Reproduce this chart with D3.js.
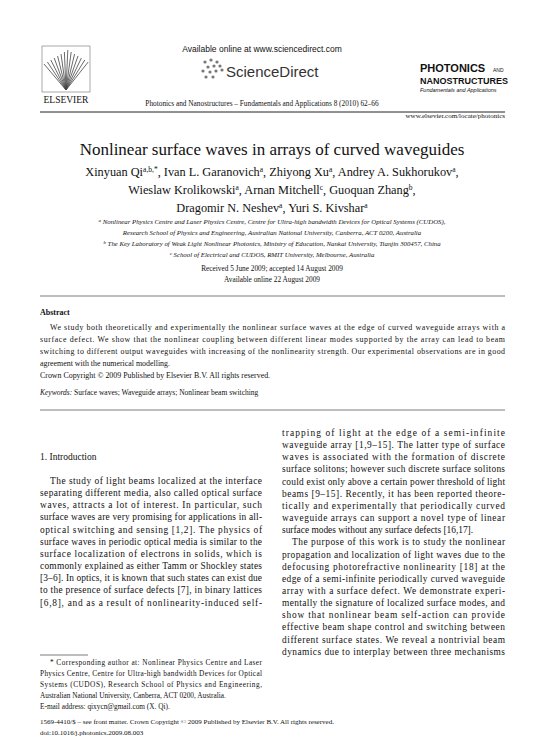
<!DOCTYPE html><html><head><meta charset="utf-8">
<script src="https://cdn.jsdelivr.net/npm/d3@7"></script>
<style>body{margin:0;background:#fff}svg{display:block}</style></head><body>
<script>
const authorLines=[
 [["Xinyuan Qi","a,b,*"],[", Ivan L. Garanovich","a"],[", Zhiyong Xu","a"],[", Andrey A. Sukhorukov","a"],[",",""]],
 [["Wieslaw Krolikowski","a"],[", Arnan Mitchell","c"],[", Guoquan Zhang","b"],[",",""]],
 [["Dragomir N. Neshev","a"],[", Yuri S. Kivshar","a"]]];
const affiliations=[
 ["a"," Nonlinear Physics Centre and Laser Physics Centre, Centre for Ultra-high bandwidth Devices for Optical Systems (CUDOS),"],
 [""," Research School of Physics and Engineering, Australian National University, Canberra, ACT 0200, Australia"],
 ["b"," The Key Laboratory of Weak Light Nonlinear Photonics, Ministry of Education, Nankai University, Tianjin 300457, China"],
 ["c"," School of Electrical and CUDOS, RMIT University, Melbourne, Australia"]];
const abstractLines=[
 ["We study both theoretically and experimentally the nonlinear surface waves at the edge of curved waveguide arrays with a",1],
 ["surface defect. We show that the nonlinear coupling between different linear modes supported by the array can lead to beam",1],
 ["switching to different output waveguides with increasing of the nonlinearity strength. Our experimental observations are in good",1],
 ["agreement with the numerical modelling.",0],
 ["Crown Copyright © 2009 Published by Elsevier B.V. All rights reserved.",0]];
const leftLines=[
 ["The study of light beams localized at the interface",1],
 ["separating different media, also called optical surface",1],
 ["waves, attracts a lot of interest. In particular, such",1],
 ["surface waves are very promising for applications in all-",1],
 ["optical switching and sensing [1,2]. The physics of",1],
 ["surface waves in periodic optical media is similar to the",1],
 ["surface localization of electrons in solids, which is",1],
 ["commonly explained as either Tamm or Shockley states",1],
 ["[3–6]. In optics, it is known that such states can exist due",1],
 ["to the presence of surface defects [7], in binary lattices",1],
 ["[6,8], and as a result of nonlinearity-induced self-",1]];
const rightLines=[
 ["trapping of light at the edge of a semi-infinite",1],
 ["waveguide array [1,9–15]. The latter type of surface",1],
 ["waves is associated with the formation of discrete",1],
 ["surface solitons; however such discrete surface solitons",1],
 ["could exist only above a certain power threshold of light",1],
 ["beams [9–15]. Recently, it has been reported theore-",1],
 ["tically and experimentally that periodically curved",1],
 ["waveguide arrays can support a novel type of linear",1],
 ["surface modes without any surface defects [16,17].",0],
 ["The purpose of this work is to study the nonlinear",1],
 ["propagation and localization of light waves due to the",1],
 ["defocusing photorefractive nonlinearity [18] at the",1],
 ["edge of a semi-infinite periodically curved waveguide",1],
 ["array with a surface defect. We demonstrate experi-",1],
 ["mentally the signature of localized surface modes, and",1],
 ["show that nonlinear beam self-action can provide",1],
 ["effective beam shape control and switching between",1],
 ["different surface states. We reveal a nontrivial beam",1],
 ["dynamics due to interplay between three mechanisms",1]];
const rightIndents=[9];
const footnoteLines=[
 ["* Corresponding author at: Nonlinear Physics Centre and Laser",1],
 ["Physics Centre, Centre for Ultra-high bandwidth Devices for Optical",1],
 ["Systems (CUDOS), Research School of Physics and Engineering,",1],
 ["Australian National University, Canberra, ACT 0200, Australia.",0],
 ["E-mail address: qixycn@gmail.com (X. Qi).",0]];

const W=544,H=743,F="Liberation Serif, Times New Roman, serif";
const svg=d3.select("body").append("svg").attr("width",W).attr("height",H).style("font-family",F);
function txt(x,y,s,size,opt={}){const t=svg.append("text").attr("x",x).attr("y",y).attr("font-size",size).attr("fill",opt.fill||"#111").text(s);
 if(opt.anchor)t.attr("text-anchor",opt.anchor);if(opt.italic)t.attr("font-style","italic");if(opt.bold)t.attr("font-weight","bold");
 if(opt.len)t.attr("textLength",opt.len).attr("lengthAdjust","spacing");if(opt.family)t.attr("font-family",opt.family);return t;}
function hline(x1,x2,y,w=0.6){svg.append("line").attr("x1",x1).attr("x2",x2).attr("y1",y).attr("y2",y).attr("stroke","#222").attr("stroke-width",w);}
function block(lines,x,y0,dy,w,size,indents){const yS=d3.scaleLinear().domain([0,1]).range([y0,y0+dy]);
 lines.forEach((l,i)=>{const ind=indents.includes(i)?10:0;txt(x+ind,yS(i),l[0],size,l[1]?{len:w-ind}:{});});}

// header
txt(262,52,"Available online at www.sciencedirect.com",8.5,{anchor:"middle",family:"Liberation Sans, Arial"});
const dots=[[205,62],[211,60],[217,62],[208,67],[214,66],[220,66],[203,71],[210,72],[216,71],[222,70],[206,77],[213,77]];
svg.selectAll("circle.d").data(dots).join("circle").attr("cx",d=>d[0]).attr("cy",d=>d[1]).attr("r",1.6).attr("fill","#777");
txt(226,77,"ScienceDirect",15,{family:"Liberation Sans, Arial",fill:"#333"});
svg.append("rect").attr("x",42).attr("y",46).attr("width",48).attr("height",46).attr("fill","#fff").attr("stroke","#555").attr("stroke-width",0.5);
for(let i=0;i<14;i++)svg.append("line").attr("x1",66).attr("y1",90).attr("x2",44+i*3.4).attr("y2",50+Math.abs(7-i)*2).attr("stroke","#444").attr("stroke-width",0.8);
txt(66,103,"ELSEVIER",9.5,{anchor:"middle"});
txt(420,72,"PHOTONICS",11,{bold:true,family:"Liberation Sans, Arial"});
txt(493,72,"AND",5,{family:"Liberation Sans, Arial"});
txt(420,84,"NANOSTRUCTURES",9,{bold:true,family:"Liberation Sans, Arial"});
txt(420,92,"Fundamentals and Applications",5.5,{italic:true,family:"Liberation Sans, Arial"});
txt(262,106,"Photonics and Nanostructures – Fundamentals and Applications 8 (2010) 62–66",7.3,{anchor:"middle"});
hline(40,505,112,1);
txt(505,118,"www.elsevier.com/locate/photonics",7,{anchor:"end"});

txt(272,155,"Nonlinear surface waves in arrays of curved waveguides",17,{anchor:"middle"});
[176,194,212].forEach((y,li)=>{const t=svg.append("text").attr("x",272).attr("y",y).attr("text-anchor","middle").attr("font-size",12.3).attr("fill","#111");
 authorLines[li].forEach(p=>{t.append("tspan").text(p[0]);if(p[1])t.append("tspan").attr("font-size",7.5).attr("baseline-shift","super").text(p[1]);});});
affiliations.forEach((a,i)=>{const t=svg.append("text").attr("x",272).attr("y",[224,235,246,257][i]).attr("text-anchor","middle").attr("font-size",6.8).attr("font-style","italic").attr("fill","#111");
 if(a[0])t.append("tspan").attr("font-size",5).attr("baseline-shift","super").text(a[0]);t.append("tspan").text(a[1]);});
txt(272,271,"Received 5 June 2009; accepted 14 August 2009",7.3,{anchor:"middle"});
txt(272,282,"Available online 22 August 2009",7.3,{anchor:"middle"});
hline(40,505,296,0.6);

txt(40,315,"Abstract",8,{bold:true});
block(abstractLines,40,330,12,465,7.9,[0]);
const kw=svg.append("text").attr("x",40).attr("y",395).attr("font-size",7.5).attr("fill","#111");
kw.append("tspan").attr("font-style","italic").text("Keywords:");kw.append("tspan").text("  Surface waves; Waveguide arrays; Nonlinear beam switching");
hline(40,505,410,0.6);

txt(40,460,"1. Introduction",9.5);
block(leftLines,40,484,12.15,222,9.4,[0]);
block(rightLines,282,436,12.15,223,9.4,rightIndents);
hline(40,88,655,0.6);
block(footnoteLines,40,665,10.9,222,7.3,[0]);
txt(40,724,"1569-4410/$ – see front matter. Crown Copyright © 2009 Published by Elsevier B.V. All rights reserved.",7);
txt(40,735,"doi:10.1016/j.photonics.2009.08.003",7);
</script></body></html>
